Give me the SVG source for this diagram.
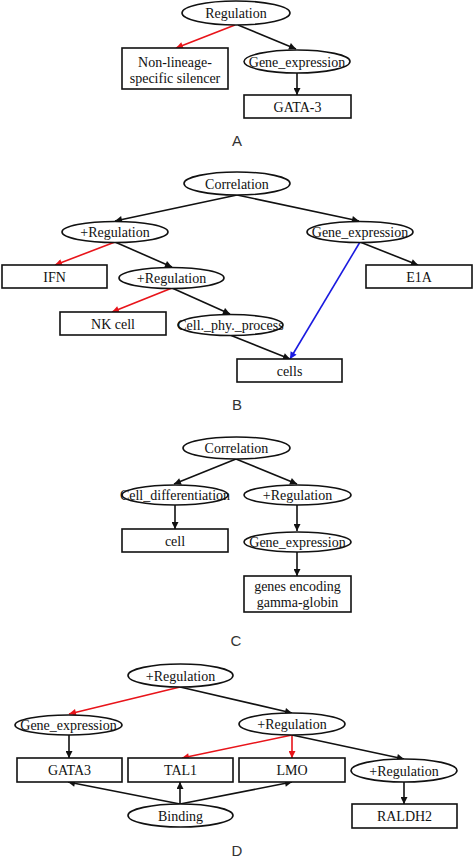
<svg xmlns="http://www.w3.org/2000/svg" width="474" height="863" viewBox="0 0 474 863">
<style>
.n{fill:#fff;stroke:#111;stroke-width:1.6}
.t{font-family:'Liberation Serif','Times New Roman',Times,serif;font-size:14px;fill:#111;text-anchor:middle}
.lab{font-family:'Liberation Sans',Arial,sans-serif;font-size:15px;fill:#333;text-anchor:middle}
.k{stroke:#111;stroke-width:1.6;fill:none;marker-end:url(#ak)}
.r{stroke:#e8141a;stroke-width:1.6;fill:none;marker-end:url(#ar)}
.b{stroke:#1a1ae0;stroke-width:1.6;fill:none;marker-end:url(#ab)}
</style>
<defs>
<marker id="ak" viewBox="0 0 10 10" refX="10" refY="5" markerWidth="8" markerHeight="7" markerUnits="userSpaceOnUse" orient="auto"><path d="M0,0L10,5L0,10z" fill="#111"/></marker>
<marker id="ar" viewBox="0 0 10 10" refX="10" refY="5" markerWidth="8" markerHeight="7" markerUnits="userSpaceOnUse" orient="auto"><path d="M0,0L10,5L0,10z" fill="#e8141a"/></marker>
<marker id="ab" viewBox="0 0 10 10" refX="10" refY="5" markerWidth="8" markerHeight="7" markerUnits="userSpaceOnUse" orient="auto"><path d="M0,0L10,5L0,10z" fill="#1a1ae0"/></marker>
</defs>
<rect width="474" height="863" fill="#fff"/>

<g id="connectors">
<line class="r" x1="235" y1="25" x2="176" y2="48"/>
<line class="k" x1="238" y1="25" x2="296" y2="49"/>
<line class="k" x1="297" y1="73" x2="297" y2="95"/>
<line class="k" x1="237" y1="195" x2="115" y2="221"/>
<line class="k" x1="237" y1="195" x2="359" y2="221"/>
<line class="r" x1="115" y1="242" x2="55" y2="265"/>
<line class="k" x1="115" y1="242" x2="172" y2="267"/>
<line class="r" x1="172" y1="288" x2="112" y2="312"/>
<line class="k" x1="172" y1="288" x2="230" y2="314"/>
<line class="k" x1="230" y1="335" x2="290" y2="359"/>
<line class="b" x1="360" y1="242" x2="290" y2="359"/>
<line class="k" x1="360" y1="242" x2="418" y2="265"/>
<line class="k" x1="236" y1="459" x2="174" y2="484"/>
<line class="k" x1="236" y1="459" x2="297" y2="484"/>
<line class="k" x1="175" y1="505" x2="175" y2="529"/>
<line class="k" x1="297" y1="505" x2="297" y2="531"/>
<line class="k" x1="297" y1="552" x2="297" y2="576"/>
<line class="r" x1="180" y1="687" x2="69" y2="714"/>
<line class="k" x1="180" y1="687" x2="292" y2="713"/>
<line class="k" x1="69" y1="735" x2="69" y2="758"/>
<line class="r" x1="292" y1="735" x2="182" y2="758"/>
<line class="r" x1="292" y1="735" x2="292" y2="758"/>
<line class="k" x1="292" y1="735" x2="404" y2="759"/>
<line class="k" x1="404" y1="782" x2="404" y2="804"/>
<line class="k" x1="180" y1="804" x2="68" y2="782"/>
<line class="k" x1="180" y1="804" x2="180" y2="782"/>
<line class="k" x1="180" y1="804" x2="292" y2="782"/>
</g>

<g font-family="Liberation Serif, Times New Roman, serif">
<!-- Panel A -->
<g id="a_regulation"><ellipse class="n" cx="236" cy="13" rx="54" ry="12"/><text class="t" x="236" y="18">Regulation</text></g>
<g id="a_silencer"><rect class="n" x="122" y="48" width="106" height="41"/><text class="t" x="175" y="67">Non-lineage-</text><text class="t" x="175" y="83">specific silencer</text></g>
<g id="a_gene_expression"><ellipse class="n" cx="297" cy="61.5" rx="53" ry="11.5"/><text class="t" x="297" y="66.5">Gene_expression</text></g>
<g id="a_gata3"><rect class="n" x="244" y="95" width="107" height="23"/><text class="t" x="297.5" y="111.5">GATA-3</text></g>

<!-- Panel B -->
<g id="b_correlation"><ellipse class="n" cx="237" cy="183.5" rx="53" ry="11.5"/><text class="t" x="237" y="188.5">Correlation</text></g>
<g id="b_regulation1"><ellipse class="n" cx="115" cy="232" rx="53" ry="10.5"/><text class="t" x="115" y="237">+Regulation</text></g>
<g id="b_gene_expression"><ellipse class="n" cx="360" cy="232" rx="53" ry="10.5"/><text class="t" x="360" y="237">Gene_expression</text></g>
<g id="b_ifn"><rect class="n" x="2" y="265" width="105" height="23"/><text class="t" x="54.5" y="281.5">IFN</text></g>
<g id="b_regulation2"><ellipse class="n" cx="171.5" cy="278" rx="52.5" ry="10.5"/><text class="t" x="171.5" y="283">+Regulation</text></g>
<g id="b_e1a"><rect class="n" x="366" y="265" width="106" height="23"/><text class="t" x="419" y="281.5">E1A</text></g>
<g id="b_nkcell"><rect class="n" x="60" y="312" width="106" height="23"/><text class="t" x="113" y="328.5">NK cell</text></g>
<g id="b_cellphy"><ellipse class="n" cx="230.5" cy="325" rx="52.5" ry="10.5"/><text class="t" x="230.5" y="330">Cell._phy._process</text></g>
<g id="b_cells"><rect class="n" x="237" y="359" width="105" height="23"/><text class="t" x="289.5" y="375.5">cells</text></g>

<!-- Panel C -->
<g id="c_correlation"><ellipse class="n" cx="236.5" cy="448" rx="53.5" ry="11"/><text class="t" x="236.5" y="453">Correlation</text></g>
<g id="c_cell_diff"><ellipse class="n" cx="175" cy="495" rx="53" ry="10"/><text class="t" x="175" y="500">Cell_differentiation</text></g>
<g id="c_regulation"><ellipse class="n" cx="297.5" cy="495" rx="53.5" ry="10"/><text class="t" x="297.5" y="500">+Regulation</text></g>
<g id="c_cell"><rect class="n" x="122" y="529" width="106" height="23"/><text class="t" x="175" y="545.5">cell</text></g>
<g id="c_gene_expression"><ellipse class="n" cx="297.5" cy="542" rx="53.5" ry="10"/><text class="t" x="297.5" y="547">Gene_expression</text></g>
<g id="c_genes"><rect class="n" x="244" y="576" width="107" height="36"/><text class="t" x="297.5" y="591">genes encoding</text><text class="t" x="297.5" y="607">gamma-globin</text></g>

<!-- Panel D -->
<g id="d_regulation_top"><ellipse class="n" cx="180.5" cy="675.5" rx="52.5" ry="11.5"/><text class="t" x="180.5" y="680.5">+Regulation</text></g>
<g id="d_gene_expression"><ellipse class="n" cx="68.5" cy="725" rx="53.5" ry="10"/><text class="t" x="68.5" y="730">Gene_expression</text></g>
<g id="d_regulation_mid"><ellipse class="n" cx="292" cy="724" rx="53" ry="11"/><text class="t" x="292" y="729">+Regulation</text></g>
<g id="d_gata3"><rect class="n" x="17" y="758" width="105" height="24"/><text class="t" x="69.5" y="775">GATA3</text></g>
<g id="d_tal1"><rect class="n" x="128" y="758" width="105" height="24"/><text class="t" x="180.5" y="775">TAL1</text></g>
<g id="d_lmo"><rect class="n" x="239" y="758" width="106" height="24"/><text class="t" x="292" y="775">LMO</text></g>
<g id="d_regulation_right"><ellipse class="n" cx="404" cy="770.5" rx="53" ry="11.5"/><text class="t" x="404" y="775.5">+Regulation</text></g>
<g id="d_binding"><ellipse class="n" cx="180.5" cy="815.5" rx="52.5" ry="11.5"/><text class="t" x="180.5" y="820.5">Binding</text></g>
<g id="d_raldh2"><rect class="n" x="352" y="804" width="105" height="24"/><text class="t" x="404.5" y="821">RALDH2</text></g>
</g>

<g id="panel_labels">
<text class="lab" x="237" y="146">A</text>
<text class="lab" x="237" y="410">B</text>
<text class="lab" x="236" y="646">C</text>
<text class="lab" x="237" y="856">D</text>
</g>
</svg>
